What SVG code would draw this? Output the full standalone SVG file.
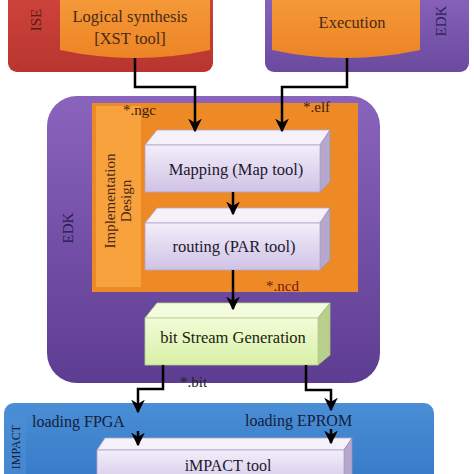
<svg xmlns="http://www.w3.org/2000/svg" width="474" height="474" viewBox="0 0 474 474">
<defs>
<linearGradient id="gRed" x1="0" y1="0" x2="0" y2="1"><stop offset="0" stop-color="#d2473e"/><stop offset="1" stop-color="#b8352f"/></linearGradient>
<linearGradient id="gPurp" x1="0" y1="0" x2="0" y2="1"><stop offset="0" stop-color="#8d67bf"/><stop offset="1" stop-color="#6a4a9e"/></linearGradient>
<linearGradient id="gPurpMid" x1="0" y1="0" x2="0" y2="1"><stop offset="0" stop-color="#8a63bd"/><stop offset="1" stop-color="#5d3d91"/></linearGradient>
<linearGradient id="gOr" x1="0" y1="0" x2="0" y2="1"><stop offset="0" stop-color="#f8a040"/><stop offset="1" stop-color="#ec8424"/></linearGradient>
<linearGradient id="gBlue" x1="0" y1="0" x2="0" y2="1"><stop offset="0" stop-color="#4a8ed6"/><stop offset="1" stop-color="#3577c4"/></linearGradient>
<linearGradient id="gLav" x1="0" y1="0" x2="0" y2="1"><stop offset="0" stop-color="#f2eefa"/><stop offset="1" stop-color="#d0c2e6"/></linearGradient>
<linearGradient id="gGreen" x1="0" y1="0" x2="0" y2="1"><stop offset="0" stop-color="#f2fcd8"/><stop offset="1" stop-color="#d8f0a6"/></linearGradient>
<marker id="arr" viewBox="0 0 10 10" refX="9" refY="5" markerWidth="5.5" markerHeight="5.5" orient="auto" markerUnits="strokeWidth">
<path d="M0,0 L10,5 L0,10 L3,5 Z" fill="#000"/>
</marker>
<style>
.t{font-family:"Liberation Serif","Times New Roman",serif;}
.conn{fill:none;stroke:#000;stroke-width:2.5;}
.lavF{fill:url(#gLav);stroke:#b4a4cc;stroke-width:0.8;}
.lavT{fill:#f4f1fa;stroke:#b4a4cc;stroke-width:0.8;}
.lavR{fill:#b6a8cc;stroke:#a090b8;stroke-width:0.8;}
.grF{fill:url(#gGreen);stroke:#b8d090;stroke-width:0.8;}
.grT{fill:#f4fce0;stroke:#b8d090;stroke-width:0.8;}
.grR{fill:#b8d08c;stroke:#a8c07c;stroke-width:0.8;}
</style>
</defs>

<g id="ise">
<rect x="8" y="-20" width="205" height="92" rx="9" fill="url(#gRed)"/>
<path d="M60,-20 H210 V50 Q135,66 60,50 Z" fill="url(#gOr)"/>
<text class="t" x="41" y="20" font-size="15" fill="#5a1a18" text-anchor="middle" transform="rotate(-90 41 20)">ISE</text>
<text class="t" x="130" y="22" font-size="16.5" fill="#4a2a12" text-anchor="middle">Logical synthesis</text>
<text class="t" x="130" y="44" font-size="16.5" fill="#4a2a12" text-anchor="middle">[XST tool]</text>
</g>

<g id="edk-top">
<rect x="265" y="-20" width="204" height="92" rx="9" fill="url(#gPurp)"/>
<path d="M272,-20 H420 V50 Q346,66 272,50 Z" fill="url(#gOr)"/>
<text class="t" x="352" y="28" font-size="16.5" fill="#4a2a12" text-anchor="middle">Execution</text>
<text class="t" x="446" y="21" font-size="15" fill="#2e1e5a" text-anchor="middle" transform="rotate(-90 446 21)">EDK</text>
</g>

<g id="edk-mid">
<rect x="47" y="96" width="333" height="287" rx="30" fill="url(#gPurpMid)"/>
<text class="t" x="73" y="228" font-size="15" fill="#2a1a50" text-anchor="middle" transform="rotate(-90 73 228)">EDK</text>
</g>

<g id="impl">
<rect x="92" y="103" width="266" height="189" fill="#ee8a26"/>
<rect x="96" y="106" width="45" height="181" fill="#f8a23e"/>
<text class="t" x="115" y="201" font-size="15" fill="#4a2a12" text-anchor="middle" transform="rotate(-90 115 201)">Implementation</text>
<text class="t" x="131" y="201" font-size="15" fill="#4a2a12" text-anchor="middle" transform="rotate(-90 131 201)">Design</text>
<text class="t" x="123" y="115" font-size="15" fill="#3a1a10">*.ngc</text>
<text class="t" x="303" y="112" font-size="15" fill="#3a1a10">*.elf</text>
<text class="t" x="266" y="291" font-size="15" fill="#6a1a10">*.ncd</text>
</g>

<g id="mapping">
<polygon class="lavT" points="145,145 157,130 330,130 320,145"/>
<polygon class="lavR" points="320,145 330,130 330,182 320,192"/>
<rect class="lavF" x="145" y="145" width="175" height="47"/>
<text class="t" x="236" y="175" font-size="16.5" fill="#22182e" text-anchor="middle">Mapping (Map tool)</text>
</g>

<g id="routing">
<polygon class="lavT" points="145,223 157,208 330,208 320,223"/>
<polygon class="lavR" points="320,223 330,208 330,260 320,270"/>
<rect class="lavF" x="145" y="223" width="175" height="47"/>
<text class="t" x="234" y="252" font-size="16.5" fill="#22182e" text-anchor="middle">routing (PAR tool)</text>
</g>

<g id="bitstream">
<polygon class="grT" points="145,318 157,303 330,303 318,318"/>
<polygon class="grR" points="318,318 330,303 330,355 318,365"/>
<rect class="grF" x="145" y="318" width="173" height="47"/>
<text class="t" x="233" y="343" font-size="16.5" fill="#1a2410" text-anchor="middle">bit Stream Generation</text>
<text class="t" x="180" y="387" font-size="15" fill="#222">*.bit</text>
</g>

<g id="impact">
<rect x="4" y="403" width="430" height="90" rx="10" fill="url(#gBlue)"/>
<rect x="4" y="413" width="22" height="70" fill="#4c8fd6" opacity="0.6"/>
<text class="t" x="20" y="425" font-size="12" fill="#14203a" text-anchor="end" transform="rotate(-90 20 425)">IMPACT</text>
<text class="t" x="32" y="427" font-size="16" fill="#14203a">loading FPGA</text>
<text class="t" x="245" y="426" font-size="16" fill="#14203a">loading EPROM</text>
<polygon class="lavT" points="97,450 105,438 352,438 344,450"/>
<polygon class="lavR" points="344,450 352,438 352,490 344,490"/>
<rect class="lavF" x="97" y="450" width="247" height="40"/>
<text class="t" x="228" y="471" font-size="16" fill="#22182e" text-anchor="middle">iMPACT tool</text>
</g>

<g id="connectors">
<polyline class="conn" points="135,58 135,87 195,87 195,131" marker-end="url(#arr)"/>
<polyline class="conn" points="347,58 347,87 282,87 282,131" marker-end="url(#arr)"/>
<line class="conn" x1="233" y1="192" x2="233" y2="214" marker-end="url(#arr)"/>
<line class="conn" x1="233" y1="270" x2="233" y2="309" marker-end="url(#arr)"/>
<polyline class="conn" points="163,365 163,389 138,389 138,412" marker-end="url(#arr)"/>
<polyline class="conn" points="306,365 306,390 331,390 331,410" marker-end="url(#arr)"/>
<line class="conn" x1="138" y1="431" x2="138" y2="445" marker-end="url(#arr)"/>
<line class="conn" x1="331" y1="429" x2="331" y2="443" marker-end="url(#arr)"/>
</g>
</svg>
